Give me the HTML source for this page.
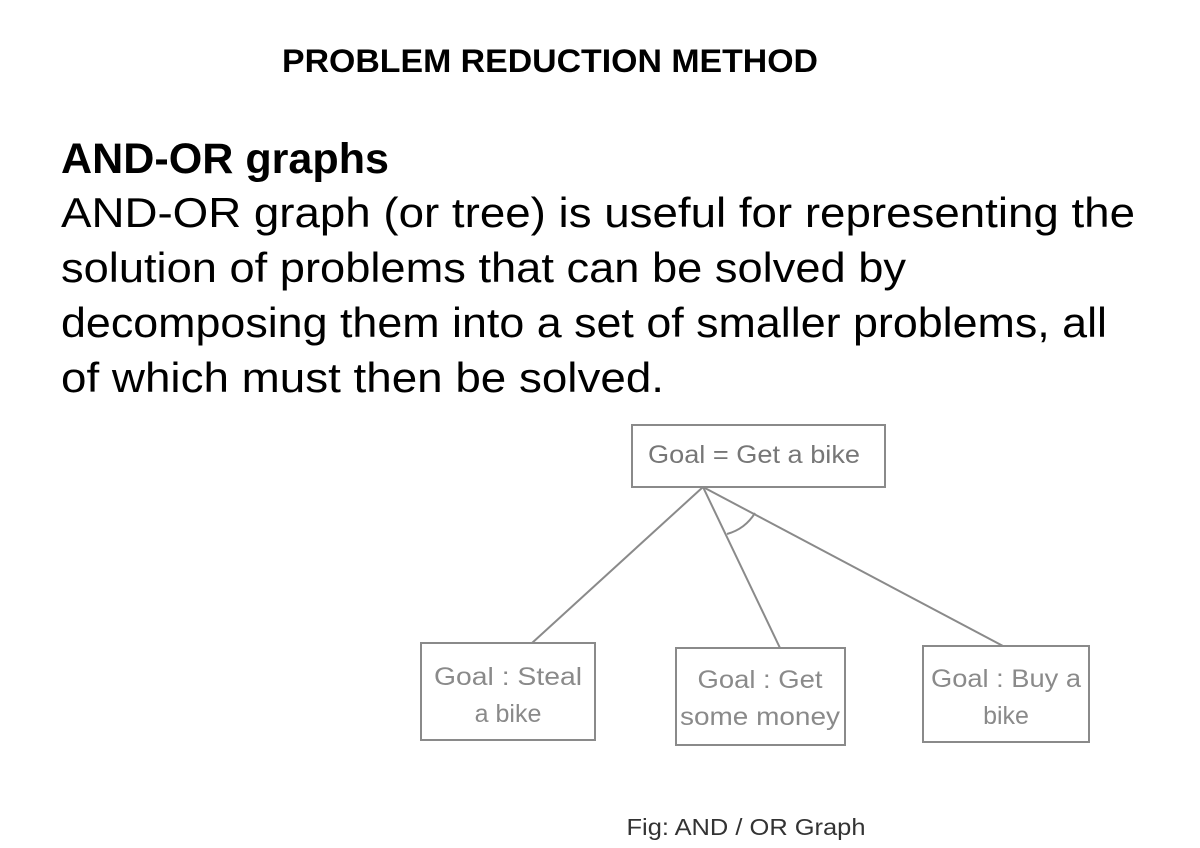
<!DOCTYPE html>
<html><head><meta charset="utf-8"><style>
html,body{margin:0;padding:0;background:#fff;}
svg{display:block;}
</style></head><body>
<svg width="1200" height="848" viewBox="0 0 1200 848" xmlns="http://www.w3.org/2000/svg">
<rect width="1200" height="848" fill="#fff"/>
<g font-family="Liberation Sans, Arial, sans-serif" fill="#000">
<text x="282" y="72" font-size="32" font-weight="bold" textLength="536" lengthAdjust="spacingAndGlyphs">PROBLEM REDUCTION METHOD</text>
<text x="61" y="173" font-size="43" font-weight="bold" textLength="328" lengthAdjust="spacingAndGlyphs">AND-OR graphs</text>
<text x="61" y="227" font-size="42" textLength="1074" lengthAdjust="spacingAndGlyphs">AND-OR graph (or tree) is useful for representing the</text>
<text x="61" y="282" font-size="42" textLength="845" lengthAdjust="spacingAndGlyphs">solution of problems that can be solved by</text>
<text x="61" y="337" font-size="42" textLength="1046" lengthAdjust="spacingAndGlyphs">decomposing them into a set of smaller problems, all</text>
<text x="61" y="392" font-size="42" textLength="603" lengthAdjust="spacingAndGlyphs">of which must then be solved.</text>
</g>
<g stroke="#8a8a8a" stroke-width="2" fill="none">
<rect x="632" y="425" width="253" height="62"/>
<rect x="421" y="643" width="174" height="97"/>
<rect x="676" y="648" width="169" height="97"/>
<rect x="923" y="646" width="166" height="96"/>
<line x1="703" y1="487" x2="532" y2="643"/>
<line x1="703" y1="487" x2="780" y2="648"/>
<line x1="703" y1="487" x2="1003" y2="646"/>
<path d="M727 534 A48 48 0 0 0 755 513"/>
</g>
<g font-family="Liberation Sans, Arial, sans-serif" fill="#8a8a8a" font-size="25" text-anchor="middle">
<text x="754" y="463" fill="#777" textLength="212" lengthAdjust="spacingAndGlyphs">Goal = Get a bike</text>
<text x="508" y="685" textLength="148" lengthAdjust="spacingAndGlyphs">Goal : Steal</text>
<text x="508" y="722">a bike</text>
<text x="760" y="688" textLength="125" lengthAdjust="spacingAndGlyphs">Goal : Get</text>
<text x="760" y="725" textLength="160" lengthAdjust="spacingAndGlyphs">some money</text>
<text x="1006" y="687" textLength="150" lengthAdjust="spacingAndGlyphs">Goal : Buy a</text>
<text x="1006" y="724">bike</text>
<text x="746" y="835" fill="#333" font-size="23" textLength="239" lengthAdjust="spacingAndGlyphs">Fig: AND / OR Graph</text>
</g>
</svg>
</body></html>
